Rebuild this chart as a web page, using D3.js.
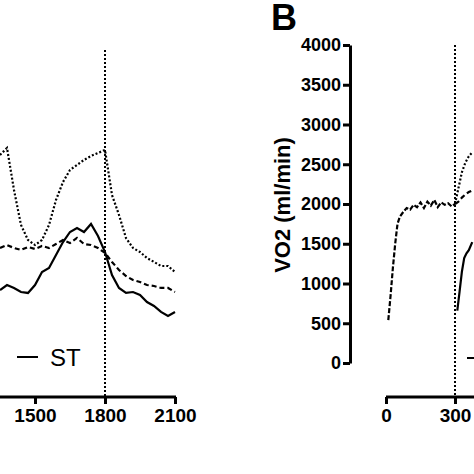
<!DOCTYPE html>
<html>
<head>
<meta charset="utf-8">
<script src="https://cdn.jsdelivr.net/npm/d3@7"></script>
<style>
  body { margin: 0; background: #fff; }
  text { font-family: Arial, "Liberation Sans", sans-serif; }
</style>
</head>
<body>
<svg id="chart" width="474" height="474"></svg>
<script>
// panel A (left, cropped) - time in s, VO2 in ml/min
var timeA = [1350,1380,1410,1440,1470,1500,1530,1560,1590,1620,1650,1680,1710,1740,1770,1800,1830,1860,1890,1920,1950,1980,2010,2040,2070,2100];
var dottedA = [2617,2705,2176,1736,1547,1484,1547,1736,2051,2277,2428,2491,2554,2604,2642,2680,2113,1862,1572,1447,1396,1321,1271,1220,1220,1145];
var dashedA = [1447,1484,1447,1422,1459,1434,1472,1447,1497,1547,1510,1573,1497,1484,1447,1384,1271,1170,1094,1044,1019,981,969,944,944,893];
var solidA = [918,981,944,893,881,981,1145,1195,1359,1522,1648,1698,1648,1749,1598,1396,1107,944,881,893,855,767,717,642,591,642];

// panel B (right, cropped)
var timeB = [10,20,30,40,50,60,75,90,105,120,135,150,165,180,195,210,225,240,255,270,285,300];
var baseB = [540,850,1200,1500,1750,1840,1900,1950,1930,1990,1960,2020,1950,2030,1980,2050,1960,2020,1990,2010,1970,2000];
var timeB2 = [300,315,330,345,360,375];
var dottedB2 = [2000,2200,2400,2520,2600,2650];
var dashedB2 = [2000,2030,2080,2120,2150,2170];
var timeSolidB = [310,320,330,340,350,360,375];
var solidB = [660,900,1150,1320,1380,1420,1520];
var yTicks = [0,500,1000,1500,2000,2500,3000,3500,4000];
var xTicksA = [1500,1800,2100];
var xTicksB = [0,300];

var svg = d3.select("#chart");
var y = d3.scaleLinear().domain([0, 4000]).range([363, 45]);
var axisY = 397;
var fmt = d3.format("d");

function drawLine(g, xs, ys, x, dash) {
  var line = d3.line().x(function(d, i) { return x(xs[i]); }).y(function(d) { return y(d); });
  g.append("path").datum(ys)
    .attr("d", line)
    .attr("fill", "none")
    .attr("stroke", "#000")
    .attr("stroke-width", 2.2)
    .attr("stroke-dasharray", dash);
}

function styleAxis(a, size) {
  a.select(".domain").attr("stroke-width", 3);
  a.selectAll(".tick line").attr("stroke-width", 3);
  a.selectAll("text").attr("font-size", size).attr("font-weight", "bold").attr("fill", "#000");
}

// ---- panel A
var xA = d3.scaleLinear().domain([1500, 2100]).range([35, 175]);
var gA = svg.append("g");
gA.append("g").attr("transform", "translate(0," + axisY + ")")
  .call(d3.axisBottom(xA).tickValues(xTicksA).tickFormat(fmt).tickSize(7).tickSizeOuter(0).tickPadding(5))
  .call(function(a) {
    styleAxis(a, 19);
    a.select(".domain").attr("d", "M-5,0H176");
  });
gA.append("line").attr("x1", xA(1800)).attr("x2", xA(1800)).attr("y1", 50).attr("y2", axisY)
  .attr("stroke", "#000").attr("stroke-width", 2).attr("stroke-dasharray", "2,2");
drawLine(gA, timeA, dottedA, xA, "2,2");
drawLine(gA, timeA, dashedA, xA, "5,3");
drawLine(gA, timeA, solidA, xA, null);
gA.append("line").attr("x1", 17).attr("x2", 38).attr("y1", 357).attr("y2", 357).attr("stroke", "#000").attr("stroke-width", 2);
gA.append("text").attr("x", 50).attr("y", 366).attr("font-size", 24).text("ST");

// ---- panel B
var xB = d3.scaleLinear().domain([0, 300]).range([386, 455]);
var gB = svg.append("g");
gB.append("g").attr("transform", "translate(350,0)")
  .call(d3.axisLeft(y).tickValues(yTicks).tickFormat(fmt).tickSize(7).tickSizeOuter(0).tickPadding(2))
  .call(function(a) { styleAxis(a, 18); });
gB.append("g").attr("transform", "translate(0," + axisY + ")")
  .call(d3.axisBottom(xB).tickValues(xTicksB).tickFormat(fmt).tickSize(7).tickSizeOuter(0).tickPadding(5))
  .call(function(a) {
    styleAxis(a, 19);
    a.select(".domain").attr("d", "M386,0H480");
  });
gB.append("text").attr("transform", "translate(290,205) rotate(-90)")
  .attr("text-anchor", "middle").attr("font-size", 22).attr("font-weight", "bold").text("VO2 (ml/min)");
gB.append("text").attr("x", 271).attr("y", 30).attr("font-size", 36).attr("font-weight", "bold").text("B");
gB.append("line").attr("x1", xB(300)).attr("x2", xB(300)).attr("y1", 45).attr("y2", axisY)
  .attr("stroke", "#000").attr("stroke-width", 2).attr("stroke-dasharray", "2,2");
drawLine(gB, timeB, baseB, xB, "5,2");
drawLine(gB, timeB2, dottedB2, xB, "2,2");
drawLine(gB, timeB2, dashedB2, xB, "5,3");
drawLine(gB, timeSolidB, solidB, xB, null);
gB.append("line").attr("x1", 467).attr("x2", 474).attr("y1", 358).attr("y2", 358).attr("stroke", "#000").attr("stroke-width", 2);
</script>
</body>
</html>
